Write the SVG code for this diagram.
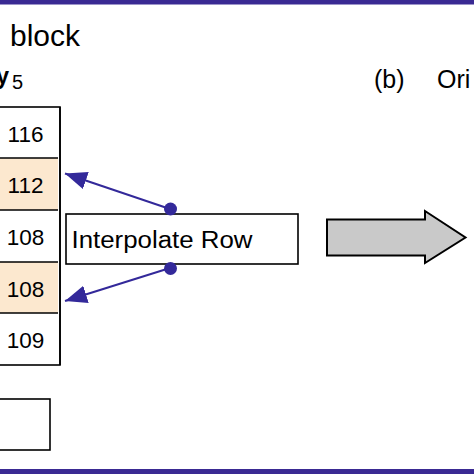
<svg xmlns="http://www.w3.org/2000/svg" width="474" height="474" viewBox="0 0 474 474">
<style>
.t{font-family:"Liberation Sans",Arial,sans-serif;fill:#000}
.cell{stroke:#000;stroke-width:1.5}
.box{fill:#fff;stroke:#000;stroke-width:1.6}
.conn{stroke:#33299a;stroke-width:2;fill:none}
</style>
<defs>
<marker id="ah" markerUnits="userSpaceOnUse" markerWidth="24" markerHeight="20" refX="22" refY="9" orient="auto">
<path d="M0,0 L22,9 L0,18 z" fill="#33299a"/>
</marker>
</defs>
<rect width="474" height="474" fill="#fff"/>
<rect x="0" y="0" width="474" height="4.5" fill="#3a2a93"/>
<rect x="0" y="469" width="474" height="5" fill="#3a2a93"/>
<g id="titles">
<text class="t" x="10" y="45.5" font-size="30">block</text>
<text class="t" x="9" y="84" font-size="23" font-weight="bold" text-anchor="end">y</text>
<text class="t" x="12" y="89" font-size="20">5</text>
<text class="t" x="374" y="88" font-size="25">(b)</text>
<text class="t" x="437" y="88" font-size="25">Ori</text>
</g>
<g id="table">
<rect x="-10" y="107" width="70" height="258" fill="#fff" stroke="#000" stroke-width="1.6"/>
<rect x="-10" y="158" width="68" height="52" fill="#fce8cf"/>
<rect x="-10" y="262" width="68" height="51" fill="#fce8cf"/>
<line class="cell" x1="-10" y1="158" x2="58" y2="158"/>
<line class="cell" x1="-10" y1="210" x2="58" y2="210"/>
<line class="cell" x1="-10" y1="262" x2="58" y2="262"/>
<line class="cell" x1="-10" y1="313" x2="58" y2="313"/>
<line x1="60" y1="107" x2="60" y2="365" stroke="#000" stroke-width="1.6"/>
<g class="t" font-size="22.5" text-anchor="middle">
<text x="25.5" y="141.5">116</text>
<text x="25.5" y="193">112</text>
<text x="25.5" y="245">108</text>
<text x="25.5" y="297">108</text>
<text x="25.5" y="348">109</text>
</g>
</g>
<g id="smallbox">
<rect class="box" x="-10" y="399" width="60" height="51"/>
</g>
<g id="interp">
<rect class="box" x="66" y="214" width="232" height="50"/>
<text class="t" x="71.5" y="248" font-size="23.5" textLength="181" lengthAdjust="spacingAndGlyphs">Interpolate Row</text>
</g>
<g id="connectors">
<line class="conn" x1="170" y1="209" x2="65" y2="173.5" marker-end="url(#ah)"/>
<line class="conn" x1="170" y1="268" x2="65" y2="301" marker-end="url(#ah)"/>
<circle cx="170.5" cy="209" r="6.5" fill="#33299a"/>
<circle cx="170.5" cy="268.5" r="6.5" fill="#33299a"/>
</g>
<g id="bigarrow">
<path d="M327,219.5 L425,219.5 L425,211 L465.5,237.5 L425,263 L425,255.5 L327,255.5 Z" fill="#c9c9c9" stroke="#000" stroke-width="2" stroke-linejoin="miter"/>
</g>
</svg>
